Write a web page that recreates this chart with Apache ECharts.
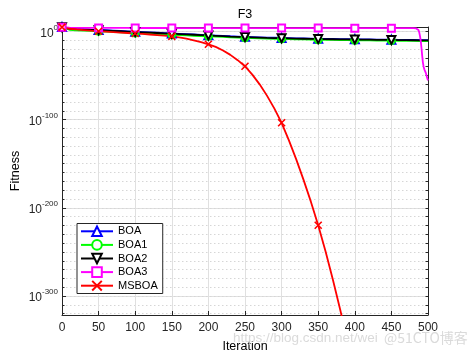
<!DOCTYPE html>
<html>
<head>
<meta charset="utf-8">
<script src="https://cdn.jsdelivr.net/npm/echarts@6/dist/echarts.min.js"></script>
<style>html,body{margin:0;padding:0;background:#fff}#c{width:474px;height:355px}</style>
</head>
<body>
<div id="c"></div>
<script>
// Iterations (x) and log10(Fitness) values
const iters = [0,10,20,30,40,50,60,70,80,90,100,110,120,130,140,150,160,170,180,190,200,
  210,220,230,240,250,260,270,280,290,300,310,320,330,340,350,360,370,380,390,400,
  410,420,430,440,450,460,470,480,490,500];
const markerIters = [0,50,100,150,200,250,300,350,400,450];

const boaLog10 = [4.9,3.8,3.1,2.6,2.1,1.7,1.3,0.9,0.5,0.1,-0.3,-0.7,-1.1,-1.5,-1.9,-2.3,-2.7,-3.1,-3.5,-3.9,-4.3,
  -4.7,-5.1,-5.5,-5.8,-6.1,-6.4,-6.7,-7.0,-7.2,-7.4,-7.6,-7.8,-8.0,-8.2,-8.4,-8.5,-8.6,-8.7,-8.8,-8.9,
  -9.0,-9.1,-9.2,-9.3,-9.4,-9.5,-9.6,-9.7,-9.8,-9.9];
const boa1Log10 = [4.8,1.9,1.3,0.9,0.5,0.2,-0.2,-0.6,-1.0,-1.4,-1.8,-2.2,-2.6,-3.0,-3.4,-3.8,-4.1,-4.5,-4.9,-5.3,-5.6,
  -6.0,-6.3,-6.7,-7.0,-7.3,-7.6,-7.9,-8.1,-8.3,-8.5,-8.7,-8.9,-9.1,-9.3,-9.5,-9.6,-9.7,-9.8,-9.9,-10.0,
  -10.1,-10.2,-10.3,-10.4,-10.5,-10.6,-10.7,-10.8,-10.9,-11.0];
const boa2Log10 = [4.8,3.3,2.7,2.2,1.8,1.4,1.0,0.6,0.2,-0.2,-0.6,-1.0,-1.4,-1.8,-2.2,-2.6,-3.0,-3.4,-3.8,-4.2,-4.6,
  -5.0,-5.4,-5.8,-6.1,-6.4,-6.7,-7.0,-7.3,-7.5,-7.7,-7.9,-8.1,-8.3,-8.5,-8.7,-8.8,-8.9,-9.0,-9.1,-9.2,
  -9.3,-9.4,-9.5,-9.6,-9.7,-9.8,-9.9,-10.0,-10.1,-10.2];
// BOA3: iterations 0..480, then its late drop
const boa3Log10 = [4.8,4.3,4.1,4.0,3.95,3.9,3.9,3.9,3.9,3.9,3.85,3.85,3.85,3.85,3.85,3.85,3.8,3.8,3.8,3.8,3.8,
  3.8,3.8,3.8,3.8,3.8,3.75,3.75,3.75,3.75,3.75,3.75,3.75,3.75,3.75,3.75,3.7,3.7,3.7,3.7,3.7,
  3.7,3.7,3.7,3.7,3.7,3.7,3.7,3.65];
const boa3TailIters = [482,484,486,487,488,489,490,491,492,493,494,495,496,497,498,499,500];
const boa3TailLog10 = [3.6,3.4,2.8,1.5,-1.0,-5.0,-10.0,-18.0,-27.0,-35.0,-40.0,-43.0,-45.0,-47.0,-50.0,-53.0,-55.5];
// MSBOA: iterations 0..390 (falls below the axis floor after ~382)
const msboaLog10 = [4.8,3.0,2.2,1.5,0.8,0.2,-0.3,-0.8,-1.3,-1.8,-2.4,-2.9,-3.5,-4.1,-4.8,-5.6,
  -6.8,-8.3,-10.1,-12.2,-14.6,-17.6,-21.6,-26.6,-32.6,-39.5,-49.0,-60.0,-72.8,-87.3,-103.6,
  -123.6,-145.1,-168.3,-193.0,-219.7,-249.2,-281.2,-315.2,-351.2];

const yMajorExponents = [0,-100,-200,-300];
const xTickLabels = [0,50,100,150,200,250,300,350,400,450,500];

const Y_MIN = -321.5, Y_MAX = 5;
const AX = '#262626';

function build(xs, ys) {
  return ys.map((v, i) => {
    const x = xs[i];
    const item = { value: [x, v] };
    if (markerIters.indexOf(x) < 0) item.symbol = 'none';
    return item;
  });
}

const boa3Data = build(iters.slice(0, boa3Log10.length), boa3Log10)
  .concat(build(boa3TailIters, boa3TailLog10));

function line(name, data, color, symbol, size, extra) {
  return Object.assign({
    name: name, type: 'line', data: data,
    symbol: symbol, symbolSize: size, showAllSymbol: true,
    lineStyle: { color: color, width: 1.8 },
    itemStyle: { color: color },
    emphasis: { disabled: true }, silent: true, clip: true
  }, extra || {});
}

const chart = echarts.init(document.getElementById('c'), null, { renderer: 'canvas' });
const FONT = '"Liberation Sans", Arial, Helvetica, sans-serif';

const minorAxisBase = {
  type: 'value', min: Y_MIN, max: Y_MAX, splitNumber: 33, minInterval: 10, maxInterval: 10,
  axisLine: { show: true, onZero: false, lineStyle: { color: AX } },
  axisTick: { show: true, inside: true, length: 2.5, lineStyle: { color: AX } },
  axisLabel: { show: false }
};

chart.setOption({
  animation: false,
  backgroundColor: '#fff',
  textStyle: { fontFamily: FONT },
  grid: { left: 62, right: 46, top: 27, bottom: 40, containLabel: false, outerBoundsMode: 'none' },
  graphic: [
    { type: 'text', x: 245, y: 15, style: { text: 'F3', align: 'center', verticalAlign: 'middle', fontSize: 12.5, fill: '#000', fontFamily: FONT } },
    { type: 'text', x: 233, y: 338, z: 100, style: { text: 'https://blog.csdn.net/wei', align: 'left', verticalAlign: 'middle', fontSize: 13.5, fill: 'rgba(205,205,205,0.75)', fontFamily: FONT } },
    { type: 'text', x: 384, y: 338, z: 100, style: { text: '@51CTO博客', align: 'left', verticalAlign: 'middle', fontSize: 14, fill: 'rgba(205,205,205,0.75)', fontFamily: '"Noto Sans CJK SC", ' + FONT } }
  ],
  legend: {
    orient: 'vertical', left: 77, top: 223.5,
    padding: [2, 5, 2, 3], itemGap: 2, itemWidth: 32, itemHeight: 12,
    backgroundColor: '#fff', borderColor: AX, borderWidth: 1, borderRadius: 0,
    textStyle: { fontSize: 11, color: '#000', fontFamily: FONT },
    data: ['BOA', 'BOA1', 'BOA2', 'BOA3', 'MSBOA']
  },
  xAxis: [
    {
      type: 'value', position: 'bottom', min: 0, max: 500, interval: 50,
      name: 'Iteration', nameLocation: 'middle', nameGap: 25, nameMoveOverlap: false,
      nameTextStyle: { fontSize: 12.5, color: '#000' },
      axisLine: { show: true, onZero: false, lineStyle: { color: AX } },
      axisTick: { show: true, inside: true, length: 4, lineStyle: { color: AX } },
      axisLabel: { fontSize: 12, color: AX, margin: 7,
        formatter: v => (xTickLabels.indexOf(Math.round(v)) >= 0 ? String(Math.round(v)) : '') },
      splitLine: { show: true, lineStyle: { color: '#e0e0e0', width: 1 } }
    },
    {
      type: 'value', position: 'top', min: 0, max: 500, interval: 50,
      axisLine: { show: true, onZero: false, lineStyle: { color: AX } },
      axisTick: { show: true, inside: true, length: 4, lineStyle: { color: AX } },
      axisLabel: { show: false }, splitLine: { show: false }
    }
  ],
  yAxis: [
    {
      type: 'value', position: 'left', min: Y_MIN, max: Y_MAX, splitNumber: 3, minInterval: 100, maxInterval: 100,
      name: 'Fitness', nameLocation: 'middle', nameGap: 40, nameMoveOverlap: false,
      nameTextStyle: { fontSize: 12.5, color: '#000' },
      axisLine: { show: true, onZero: false, lineStyle: { color: AX } },
      axisTick: { show: true, inside: true, length: 4, lineStyle: { color: AX } },
      axisLabel: {
        show: true, margin: 4, color: AX, showMinLabel: false, showMaxLabel: false, interval: 0,
        formatter: v => {
          const e = Math.round(v);
          return (Math.abs(v - e) < 1e-6 && yMajorExponents.indexOf(e) >= 0) ? '{b|10}{s|' + e + '}' : '';
        },
        rich: {
          b: { fontSize: 12, color: AX, lineHeight: 16, verticalAlign: 'bottom', fontFamily: FONT },
          s: { fontSize: 8, color: AX, lineHeight: 9, verticalAlign: 'top', fontFamily: FONT }
        }
      },
      splitLine: { show: true, lineStyle: { color: '#e0e0e0', width: 1 } }
    },
    Object.assign({}, minorAxisBase, {
      position: 'right',
      splitLine: { show: true, lineStyle: { color: '#d6d6d6', width: 1, type: [1.5, 2.5] } }
    }),
    Object.assign({}, minorAxisBase, { position: 'left', splitLine: { show: false } })
  ],
  series: [
    line('BOA', build(iters, boaLog10), '#0000ff', 'emptyTriangle', 8),
    line('BOA1', build(iters, boa1Log10), '#00ff00', 'emptyCircle', 7),
    line('BOA2', build(iters, boa2Log10), '#000000', 'emptyTriangle', 8, { symbolRotate: 180 }),
    line('BOA3', boa3Data, '#ff00ff', 'emptyRect', 7),
    line('MSBOA', build(iters.slice(0, msboaLog10.length), msboaLog10), '#ff0000',
      'path://M0,0L10,10M10,0L0,10', 7,
      { itemStyle: { color: '#ff0000', borderColor: '#ff0000', borderWidth: 1.6 } })
  ]
});
</script>
</body>
</html>
